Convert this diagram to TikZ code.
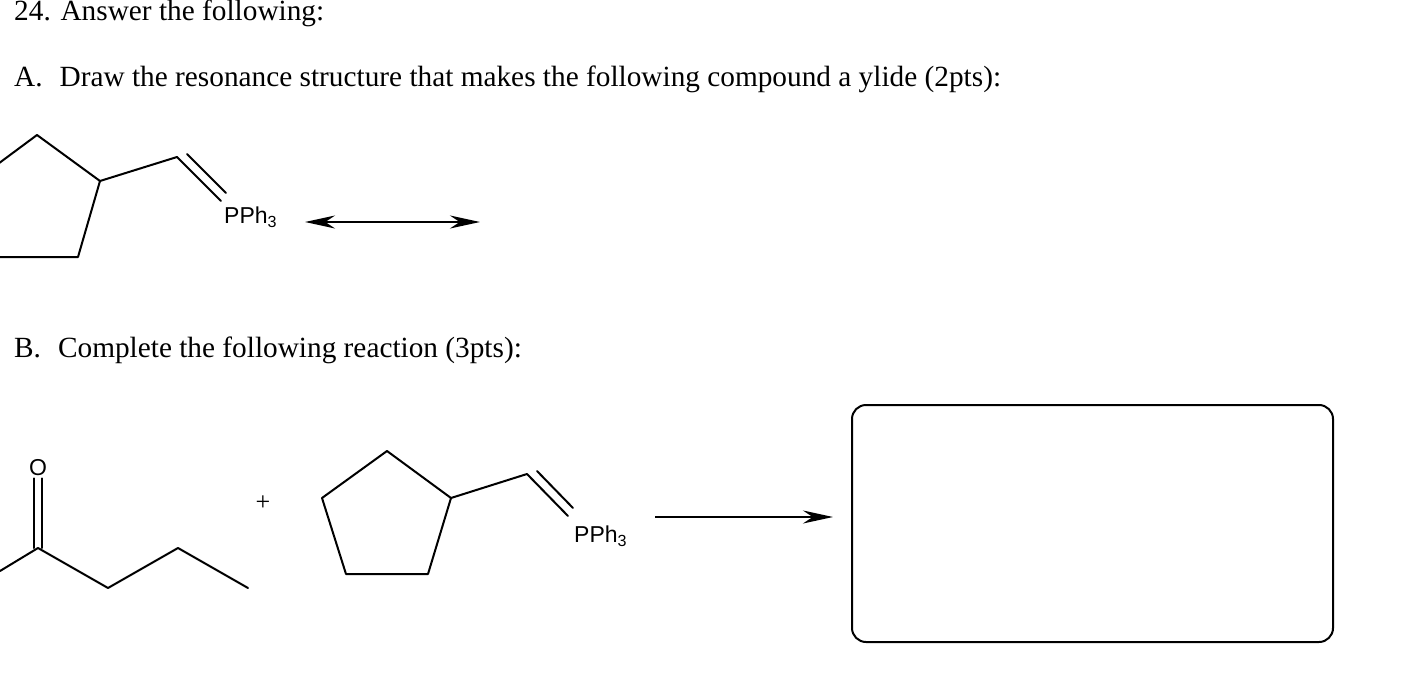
\documentclass[tikz,border=0pt]{standalone}
\usepackage{fontspec}
\setmainfont{Liberation Serif}
\newfontfamily\chemsans{Liberation Sans}
\usetikzlibrary{arrows.meta}
\begin{document}
\begin{tikzpicture}[x=1pt,y=-1pt,
  bond/.style={line width=2pt,line cap=round,line join=round},
  txt/.style={anchor=west,inner sep=0pt,font=\fontsize{29.3}{32}\selectfont},
  chem/.style={inner sep=0pt,font=\chemsans\fontsize{23}{26}\selectfont},
  arr/.style={line width=2pt,-{Stealth[length=30pt,width=13pt]}}]
\useasboundingbox (0,0) rectangle (1420,674);
\node[txt] (t1) at (14,13) {24. Answer the following:};
\node[txt] (t2) at (14,79) {A.\hspace{17pt}Draw the resonance structure that makes the following compound a ylide (2pts):};
\node[txt] (t3) at (14,350) {B.\hspace{17pt}Complete the following reaction (3pts):};
% Part A
\draw[bond] (-25,181) -- (37,135) -- (100,181) -- (78,257) -- (-5,257);
\draw[bond] (100,181) -- (177,157) -- (221,201);
\draw[bond] (187,154) -- (226,193);
\node[chem,anchor=west] (p1) at (224,217) {PPh\textsubscript{3}};
\coordinate (a1) at (305,222); \coordinate (a2) at (480,222);
\draw[line width=2pt,{Stealth[length=30pt,width=13pt]}-{Stealth[length=30pt,width=13pt]}] (a1) -- (a2);
% Part B ketone
\node[chem] (O) at (38,468) {O};
\draw[bond] (O.south) ++(-4,2) -- (34,548);
\draw[bond] (O.south) ++(4,2) -- (42,548);
\draw[bond] (0,571) -- (38,548) -- (108,588) -- (178,548) -- (248,588);
\node[inner sep=0pt,font=\fontsize{26}{28}\selectfont] (plus) at (263,503) {+};
% pentagon ylide
\draw[bond] (387,451) -- (451,498) -- (428,574) -- (346,574) -- (322,498) -- cycle;
\draw[bond] (451,498) -- (527,474) -- (568,516);
\draw[bond] (537,471) -- (573,508);
\node[chem,anchor=west] (p2) at (574,536) {PPh\textsubscript{3}};
\coordinate (b1) at (655,517); \coordinate (b2) at (833,517);
\draw[arr] (b1) -- (b2);
\draw[line width=2pt,rounded corners=14pt] (852,405) rectangle (1333,642);
\end{tikzpicture}
\end{document}
